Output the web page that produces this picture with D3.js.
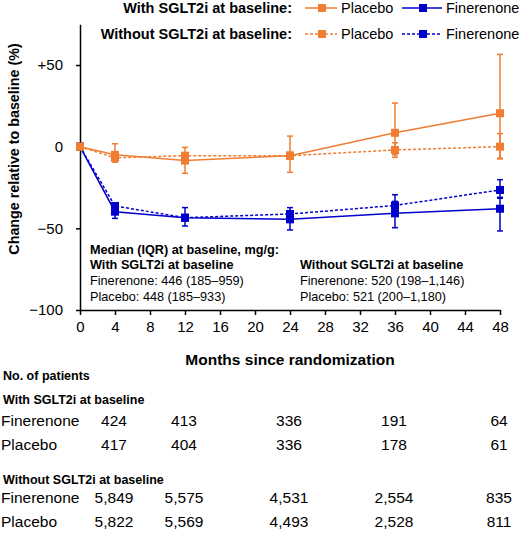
<!DOCTYPE html>
<html>
<head>
  <style>
    body { margin: 0; background: #fff; }
    svg { font-family: "Liberation Sans", Arial, sans-serif; }
    .axis text { font-size: 15px; fill: #000; }
    .axis path, .axis line { stroke: #000; stroke-width: 1.5; }
  </style>
</head>
<body>
  <script src="https://cdn.jsdelivr.net/npm/d3@7"></script>
  <script>
    // months and the values (% change from baseline)
    const months = [0, 4, 12, 24, 36, 48];
    const xTicks = [0, 4, 8, 12, 16, 20, 24, 28, 32, 36, 40, 44, 48];
    const yTicks = [-100, -50, 0, 50];
    const yTickLabels = ["\u2212100", "\u221250", "0", "+50"];

    const placeboWith = [0, -5, -8.5, -5.5, 8.5, 20.5];
    const placeboWithLo = [0, -9.5, -16.3, -15.7, -6.5, -7.5];
    const placeboWithHi = [0, 1.8, -0.4, 6.5, 26.7, 56.5];

    const placeboWithout = [0, -6.8, -5.5, -5.5, -2, 0];
    const placeboWithoutLo = [0, -8.5, -7, -7.5, -5, -7];
    const placeboWithoutHi = [0, -5, -4, -3.5, 2.4, 8];

    const fineWith = [0, -39.8, -43.5, -44.5, -40.8, -38];
    const fineWithLo = [0, -43.9, -48.6, -51, -49.6, -51.6];
    const fineWithHi = [0, -35, -37.3, -37.3, -29.4, -31];

    const fineWithout = [0, -36.3, -43.5, -41.2, -36, -26.5];
    const fineWithoutLo = [0, -38, -45, -43, -38.5, -31.6];
    const fineWithoutHi = [0, -34.5, -42, -39.5, -33.5, -20.2];

    // numbers at risk
    const riskMonths = [4, 12, 24, 36, 48];
    const riskFineWith = ["424", "413", "336", "191", "64"];
    const riskPlaWith = ["417", "404", "336", "178", "61"];
    const riskFineWithout = ["5,849", "5,575", "4,531", "2,554", "835"];
    const riskPlaWithout = ["5,822", "5,569", "4,493", "2,528", "811"];

    const orange = "#f07d32";
    const blue = "#0000cc";

    const w = 520, h = 534;

    const x = d3.scaleLinear().domain([0, 48]).range([80, 500]);
    const y = d3.scaleLinear().domain([-100, 75]).range([310, 24.2]);

    const svg = d3.select("body").append("svg")
      .attr("width", w)
      .attr("height", h);

    // axes
    svg.append("g")
      .attr("class", "axis")
      .attr("transform", "translate(0,310)")
      .call(d3.axisBottom(x).tickValues(xTicks).tickSize(5).tickSizeOuter(0).tickPadding(6));

    svg.append("g")
      .attr("class", "axis")
      .attr("transform", "translate(80,0)")
      .call(d3.axisLeft(y).tickValues(yTicks).tickSize(4).tickSizeOuter(0).tickPadding(13)
        .tickFormat((d, i) => yTickLabels[i]));

    svg.append("text")
      .attr("transform", "translate(19,149) rotate(-90)")
      .attr("text-anchor", "middle")
      .attr("font-size", 14.3)
      .attr("font-weight", "bold")
      .text("Change relative to baseline (%)");

    svg.append("text")
      .attr("x", 290).attr("y", 365)
      .attr("text-anchor", "middle")
      .attr("font-size", 15.5)
      .attr("font-weight", "bold")
      .text("Months since randomization");

    // series (blue first so the orange marker sits on top at month 0)
    const series = [
      { v: fineWithout, lo: fineWithoutLo, hi: fineWithoutHi, color: blue, dash: "3,2" },
      { v: fineWith, lo: fineWithLo, hi: fineWithHi, color: blue, dash: null },
      { v: placeboWithout, lo: placeboWithoutLo, hi: placeboWithoutHi, color: orange, dash: "3,2" },
      { v: placeboWith, lo: placeboWithLo, hi: placeboWithHi, color: orange, dash: null }
    ];

    const line = d3.line()
      .x((d, i) => x(months[i]))
      .y(d => y(d));

    const ms = 8; // marker size
    const cap = 3;

    series.forEach(s => {
      const g = svg.append("g");
      // error bars
      months.forEach((m, i) => {
        if (i === 0) return;
        g.append("line")
          .attr("x1", x(m)).attr("x2", x(m))
          .attr("y1", y(s.lo[i])).attr("y2", y(s.hi[i]))
          .attr("stroke", s.color).attr("stroke-width", 1.5);
        [s.lo[i], s.hi[i]].forEach(e => {
          g.append("line")
            .attr("x1", x(m) - cap).attr("x2", x(m) + cap)
            .attr("y1", y(e)).attr("y2", y(e))
            .attr("stroke", s.color).attr("stroke-width", 1.5);
        });
      });
      g.append("path")
        .datum(s.v)
        .attr("d", line)
        .attr("fill", "none")
        .attr("stroke", s.color)
        .attr("stroke-width", 1.5)
        .attr("stroke-dasharray", s.dash);
      g.selectAll("rect")
        .data(s.v)
        .enter()
        .append("rect")
        .attr("x", (d, i) => x(months[i]) - ms / 2)
        .attr("y", d => y(d) - ms / 2)
        .attr("width", ms)
        .attr("height", ms)
        .attr("fill", s.color);
    });

    // legend
    const legend = [
      { label: "With SGLT2i at baseline:", y: 8, dash: null },
      { label: "Without SGLT2i at baseline:", y: 34, dash: "3,2" }
    ];
    legend.forEach(r => {
      svg.append("text")
        .attr("x", 292).attr("y", r.y + 5)
        .attr("text-anchor", "end")
        .attr("font-size", 14.5)
        .attr("font-weight", "bold")
        .text(r.label);
      [{ x0: 305, x1: 337, c: orange, t: "Placebo", tx: 341 },
       { x0: 402, x1: 442, c: blue, t: "Finerenone", tx: 446 }].forEach(k => {
        svg.append("line")
          .attr("x1", k.x0).attr("x2", k.x1)
          .attr("y1", r.y).attr("y2", r.y)
          .attr("stroke", k.c).attr("stroke-width", 1.5)
          .attr("stroke-dasharray", r.dash);
        svg.append("rect")
          .attr("x", (k.x0 + k.x1) / 2 - ms / 2 + 1).attr("y", r.y - ms / 2)
          .attr("width", ms).attr("height", ms)
          .attr("fill", k.c);
        svg.append("text")
          .attr("x", k.tx).attr("y", r.y + 5)
          .attr("font-size", 14.5)
          .text(k.t);
      });
    });

    // baseline median annotation
    const note = svg.append("g").attr("font-size", 12.7);
    note.append("text").attr("x", 90).attr("y", 254).attr("font-weight", "bold")
      .text("Median (IQR) at baseline, mg/g:");
    note.append("text").attr("x", 90).attr("y", 269).attr("font-weight", "bold")
      .text("With SGLT2i at baseline");
    note.append("text").attr("x", 90).attr("y", 285)
      .text("Finerenone: 446 (185\u2013959)");
    note.append("text").attr("x", 90).attr("y", 301)
      .text("Placebo: 448 (185\u2013933)");
    note.append("text").attr("x", 300).attr("y", 269).attr("font-weight", "bold")
      .text("Without SGLT2i at baseline");
    note.append("text").attr("x", 300).attr("y", 285)
      .text("Finerenone: 520 (198\u20131,146)");
    note.append("text").attr("x", 300).attr("y", 301)
      .text("Placebo: 521 (200\u20131,180)");

    // number at risk table
    svg.append("text").attr("x", 3).attr("y", 380)
      .attr("font-size", 12.5).attr("font-weight", "bold")
      .text("No. of patients");
    svg.append("text").attr("x", 3).attr("y", 404)
      .attr("font-size", 12.5).attr("font-weight", "bold")
      .text("With SGLT2i at baseline");
    svg.append("text").attr("x", 3).attr("y", 484)
      .attr("font-size", 12.5).attr("font-weight", "bold")
      .text("Without SGLT2i at baseline");

    const rows = [
      { label: "Finerenone", vals: riskFineWith, y: 426 },
      { label: "Placebo", vals: riskPlaWith, y: 450 },
      { label: "Finerenone", vals: riskFineWithout, y: 503 },
      { label: "Placebo", vals: riskPlaWithout, y: 527 }
    ];
    rows.forEach(r => {
      svg.append("text").attr("x", 1).attr("y", r.y)
        .attr("font-size", 15.5)
        .text(r.label);
      svg.selectAll(null)
        .data(r.vals)
        .enter()
        .append("text")
        .attr("x", (d, i) => x(riskMonths[i]) - 1)
        .attr("y", r.y)
        .attr("text-anchor", "middle")
        .attr("font-size", 15.5)
        .text(d => d);
    });
  </script>
</body>
</html>
